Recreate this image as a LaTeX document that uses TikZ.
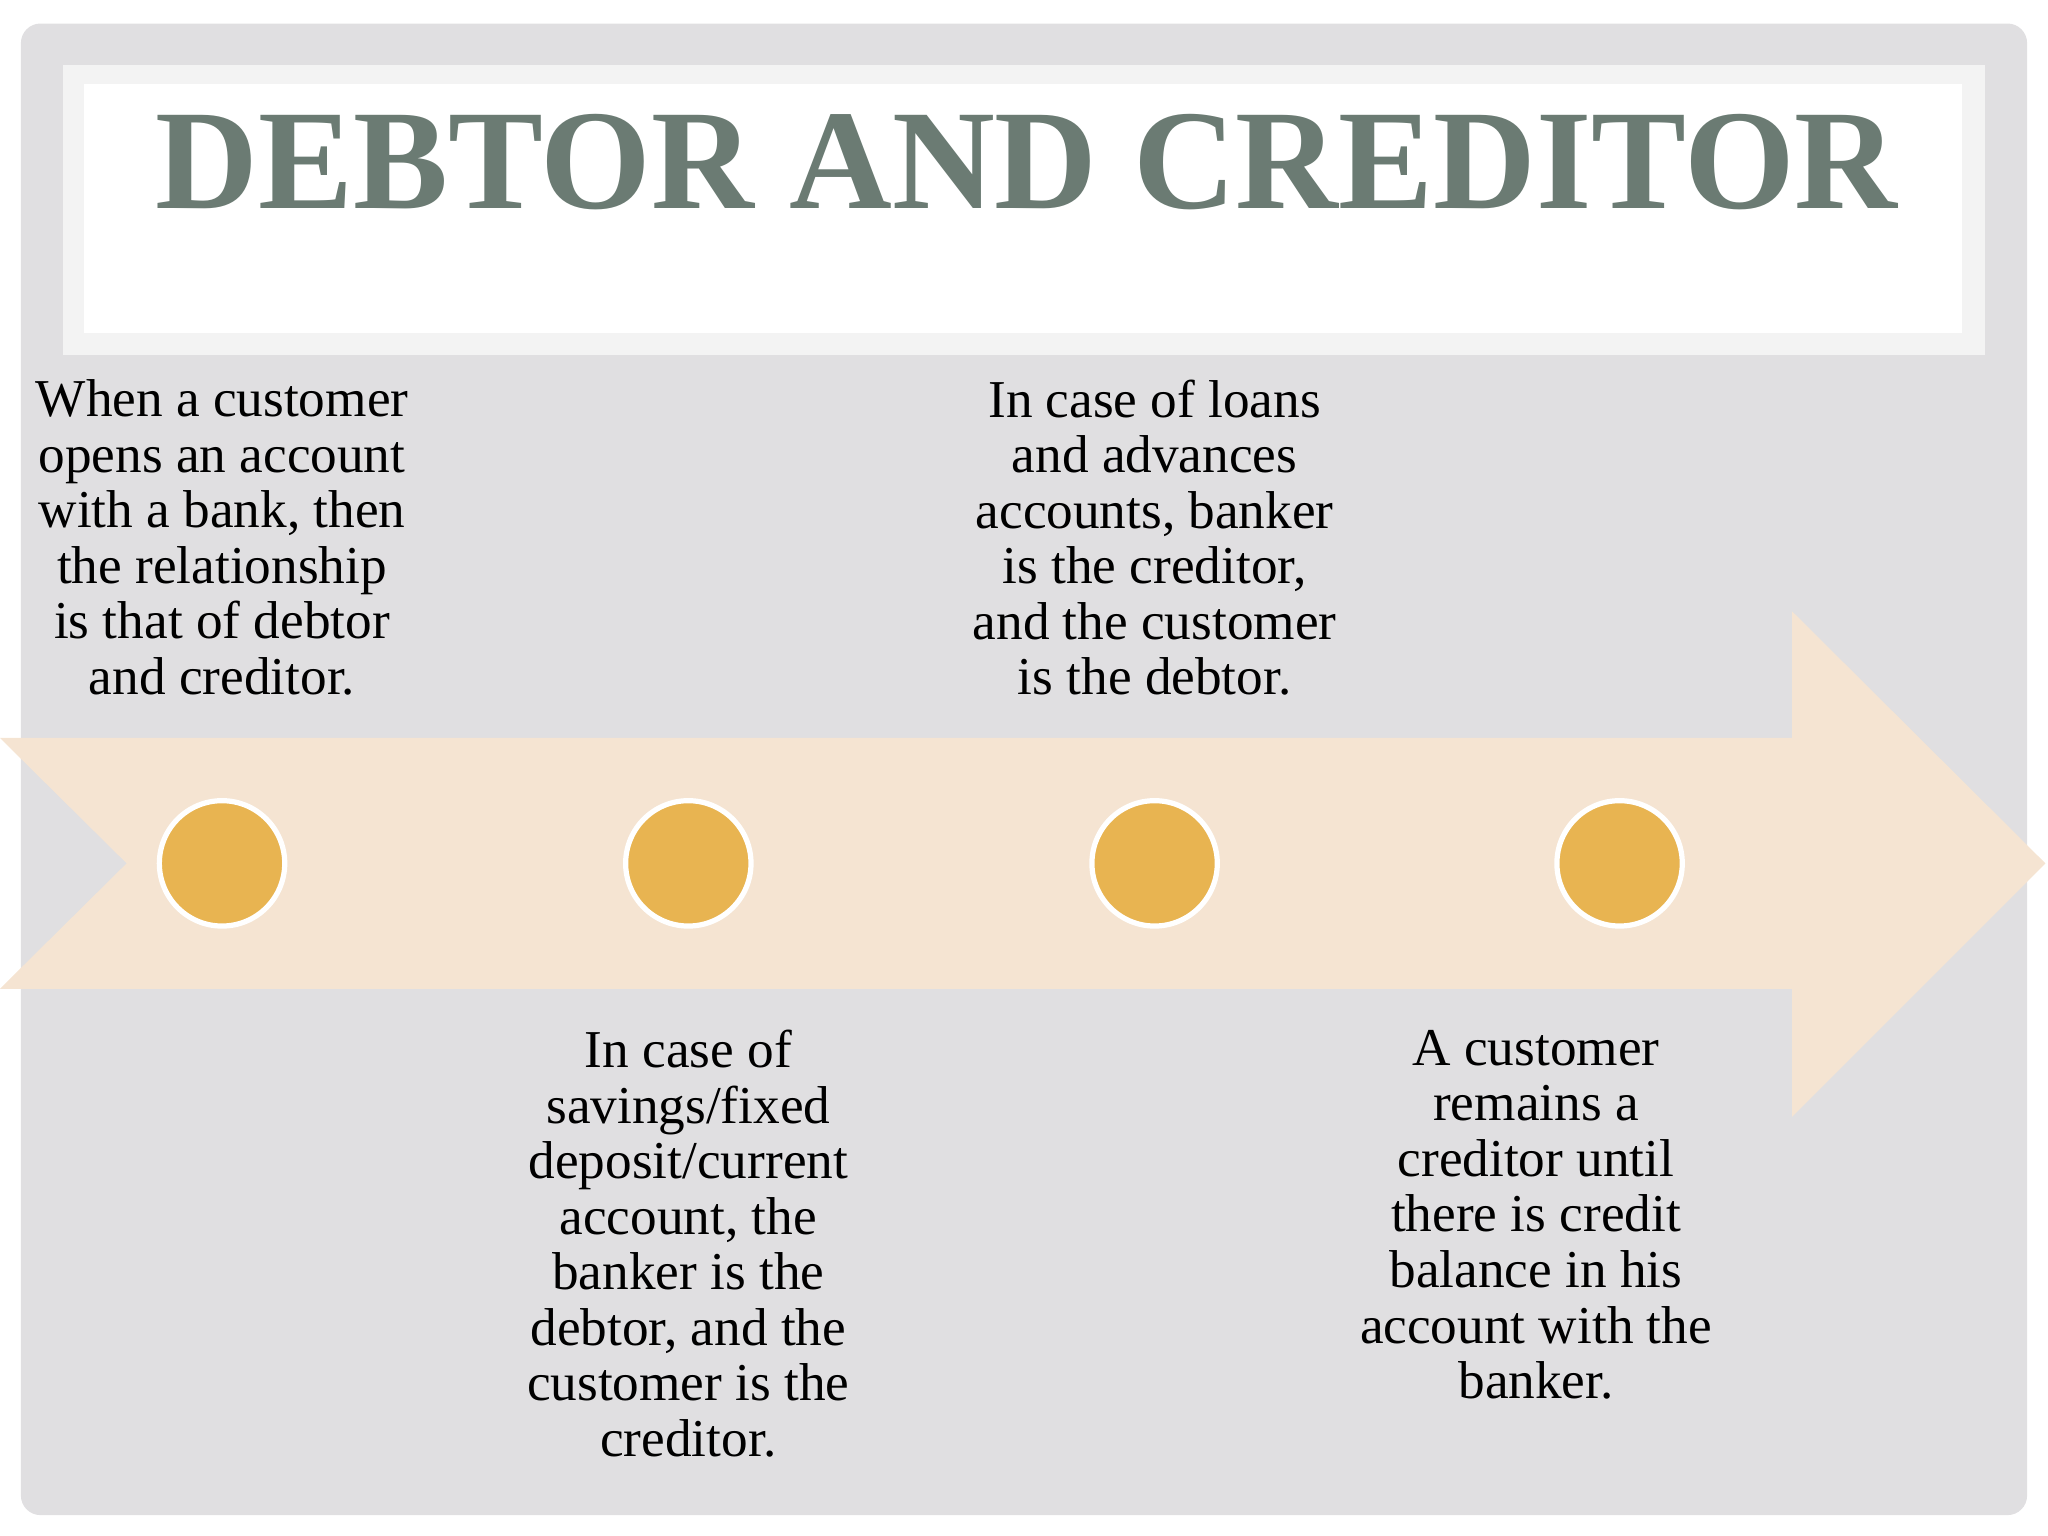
\documentclass[tikz,border=0pt]{standalone}
\usepackage{fontspec}
\setmainfont{Liberation Serif}
\usepackage{xcolor}
\usetikzlibrary{positioning}
\definecolor{panelgray}{HTML}{E0DFE1}
\definecolor{framegray}{HTML}{F3F3F3}
\definecolor{bandpeach}{HTML}{F5E4D2}
\definecolor{dotgold}{HTML}{E8B451}
\definecolor{titlegreen}{HTML}{6B7B73}

\begin{document}
\begin{tikzpicture}[x=0.1mm, y=-0.1mm,
  dot/.style={circle, fill=dotgold, draw=white, line width=0.4mm, minimum size=9.6mm, inner sep=0pt},
  note/.style={align=center, anchor=north, inner sep=0pt, font=\fontsize{11.6}{12.1}\selectfont}]

\useasboundingbox (0,0) rectangle (1568,1176);

% Background panel
\fill[panelgray, rounded corners=1.5mm] (16,18) rectangle (1552,1160);

% Title box
\fill[framegray] (48,50) rectangle (1520,272);
\fill[white] (64,64) rectangle (1502,255);
\node[anchor=base, text=titlegreen, inner sep=0pt, font=\fontsize{31}{31}\selectfont\bfseries] (title) at (786,160) {DEBTOR AND CREDITOR};

% Arrow band
\fill[bandpeach] (0,565) -- (1372,565) -- (1372,468) -- (1566,661) -- (1372,855) -- (1372,757) -- (0,757) -- (97,661) -- cycle;

% Dots on the band
\foreach \name/\x in {dotA/170, dotB/527, dotC/884, dotD/1240}
  \node[dot] (\name) at (\x,661) {};

% Notes above
\node[note] (noteA) at (170,290) {When a customer\\opens an account\\with a bank, then\\the relationship\\is that of debtor\\and creditor.};
\node[note] (noteC) at (884,290) {In case of loans\\and advances\\accounts, banker\\is the creditor,\\and the customer\\is the debtor.};

% Notes below
\node[note] (noteB) at (527,788) {In case of\\savings/fixed\\deposit/current\\account, the\\banker is the\\debtor, and the\\customer is the\\creditor.};
\node[note] (noteD) at (1176,788) {A customer\\remains a\\creditor until\\there is credit\\balance in his\\account with the\\banker.};

\end{tikzpicture}
\end{document}
